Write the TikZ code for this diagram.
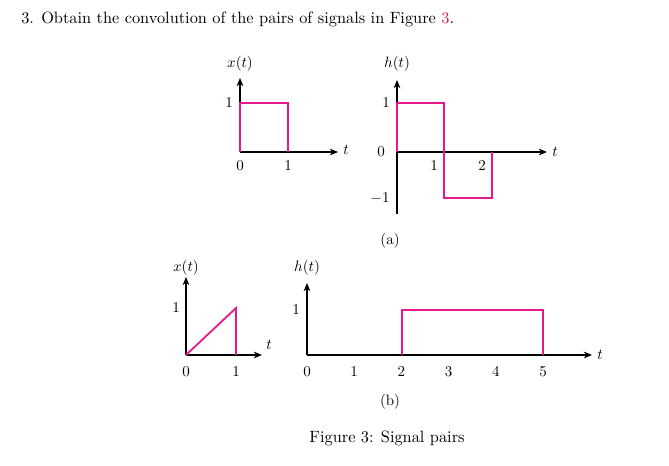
\documentclass[tikz,border=0pt]{standalone}
\usetikzlibrary{arrows.meta}
\definecolor{sig}{HTML}{E6198C}
\definecolor{refc}{HTML}{E6194B}
\tikzset{ax/.style={line width=0.8pt,-{Stealth[length=5.5pt,width=4.5pt]}},
 sg/.style={sig,line width=1.2pt},
 lbl/.style={inner sep=1pt,font=\fontsize{10}{12}\selectfont}}
\begin{document}
\begin{tikzpicture}[x=0.667pt,y=-0.667pt]
\useasboundingbox (0,0) rectangle (669,466);
\node[anchor=west,inner sep=0,font=\fontsize{10.9}{13}\selectfont] (title) at (21,19) {3. Obtain the convolution of the pairs of signals in Figure \textcolor{refc}{3}.};
% (a) left
\coordinate (o1) at (240,152);
\draw[ax] (o1) -- (240,78) coordinate (y1);
\draw[ax] (o1) -- (338,152) coordinate (x1);
\draw[sg] (240,152) -- (240,103) -- (288,103) -- (288,152);
\node[lbl] (t1) at (346,150) {$t$};
\node[lbl] (xa) at (240,64) {$x(t)$};
\node[lbl] (a0) at (240,166) {$0$};
\node[lbl] (a1) at (288,166) {$1$};
\node[lbl] (ay1) at (229,103) {$1$};
% (a) right
\coordinate (o2) at (397,152);
\draw[line width=0.8pt] (397,152) -- (397,214);
\draw[ax] (o2) -- (397,80) coordinate (y2);
\draw[ax] (o2) -- (547,152) coordinate (x2);
\draw[sg] (397,152) -- (397,103) -- (444,103) -- (444,198) -- (492,198) -- (492,152);
\node[lbl] (t2) at (555,152) {$t$};
\node[lbl] (ha) at (397,64) {$h(t)$};
\node[lbl] (b0) at (381,152) {$0$};
\node[lbl] (b1) at (434,166) {$1$};
\node[lbl] (b2) at (482,166) {$2$};
\node[lbl] (by1) at (386,103) {$1$};
\node[lbl] (bym) at (380,198) {$-1$};
\node[lbl] (cap1) at (390,241) {(a)};
% (b) left
\coordinate (o3) at (186,355);
\draw[ax] (o3) -- (186,277) coordinate (y3);
\draw[ax] (o3) -- (262,355) coordinate (x3);
\draw[sg] (186,355) -- (236,308) -- (236,355);
\node[lbl] (t3) at (269,345) {$t$};
\node[lbl] (xb) at (186,268) {$x(t)$};
\node[lbl] (c0) at (186,372) {$0$};
\node[lbl] (c1) at (236,372) {$1$};
\node[lbl] (cy1) at (176,308) {$1$};
% (b) right
\coordinate (o4) at (307,355);
\draw[ax] (o4) -- (307,283) coordinate (y4);
\draw[ax] (o4) -- (592,355) coordinate (x4);
\draw[sg] (402,355) -- (402,310) -- (543,310) -- (543,355);
\node[lbl] (t4) at (600,355) {$t$};
\node[lbl] (hb) at (307,268) {$h(t)$};
\node[lbl] (dy1) at (296,310) {$1$};
\foreach \k in {0,...,5}{\node[lbl] (d\k) at (307+47.2*\k,372) {$\k$};}
\node[lbl] (cap2) at (390,402) {(b)};
\node[inner sep=0,font=\fontsize{10.9}{13}\selectfont] (fig) at (387,438) {Figure 3: Signal pairs};
\end{tikzpicture}
\end{document}
